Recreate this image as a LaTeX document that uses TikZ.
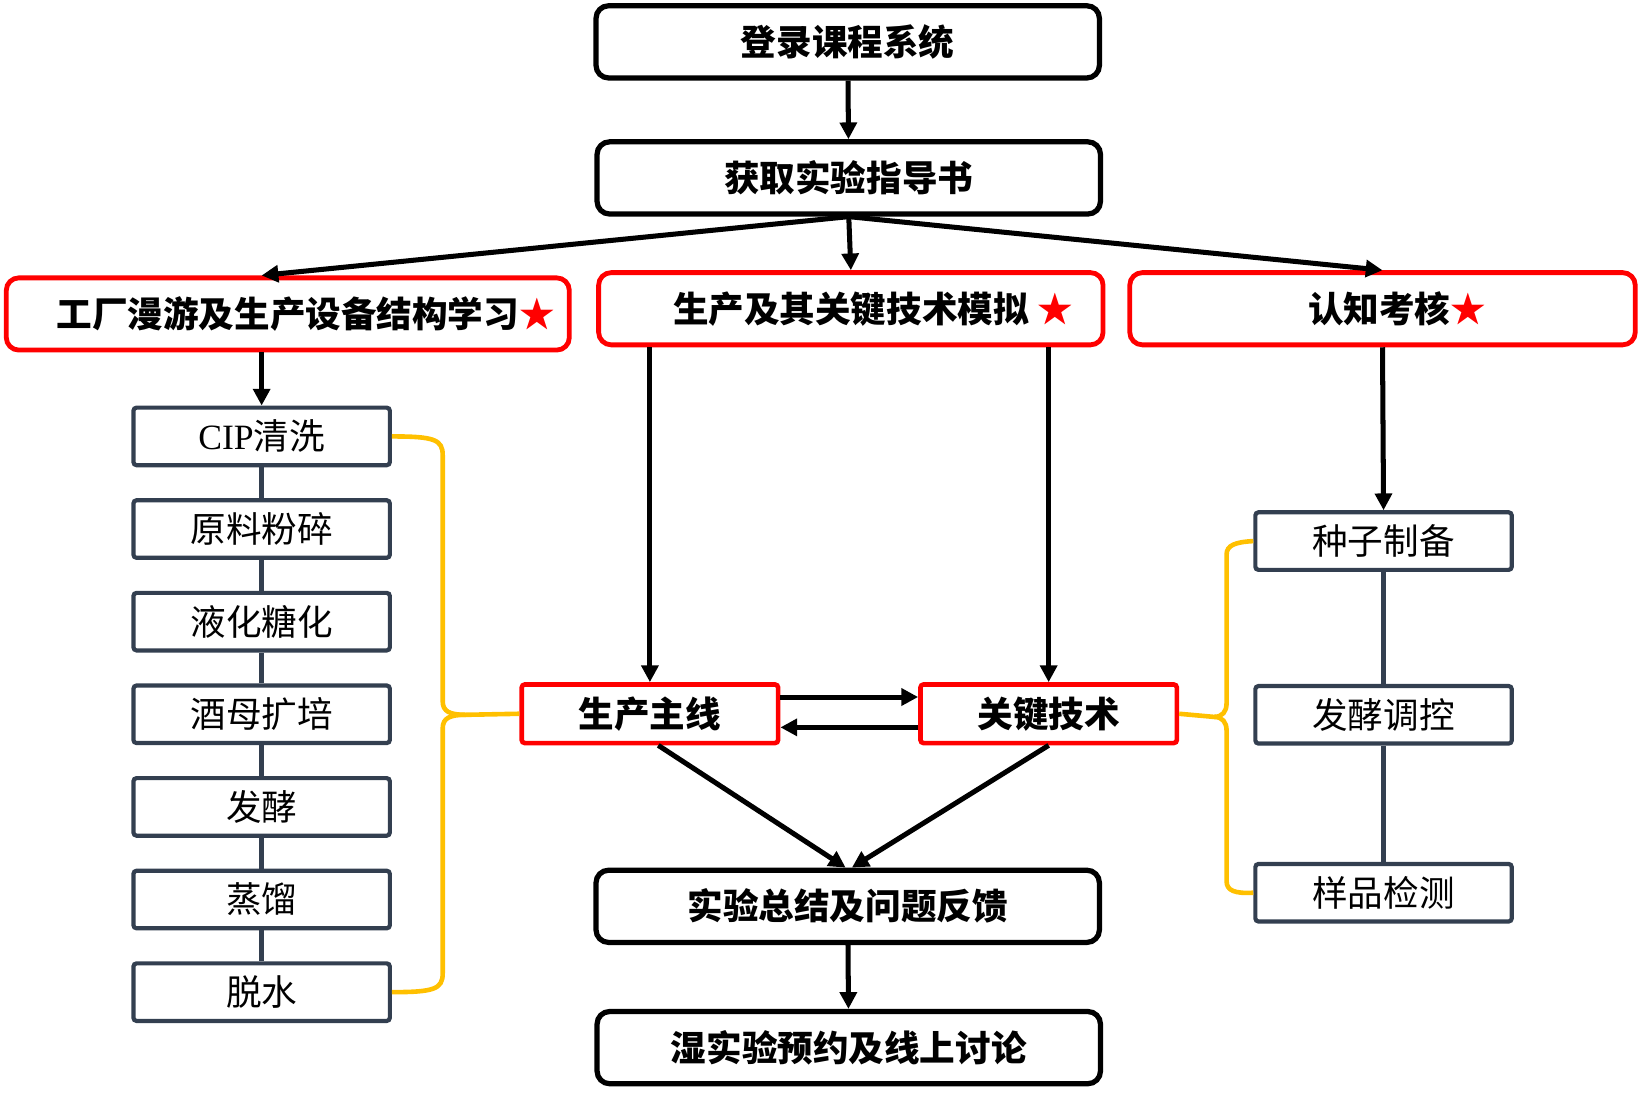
\documentclass[tikz,border=0pt]{standalone}
\usepackage{fontspec}
\setmainfont{Liberation Serif}
\newfontfamily\cjk{Noto Sans CJK SC}
\usepackage{tikz}
\usetikzlibrary{arrows.meta,positioning,calc}
\definecolor{slate}{HTML}{333F50}
\definecolor{braceyellow}{HTML}{FFC000}

\begin{document}
\begin{tikzpicture}[
    x=0.5pt, y=-0.5pt,
    node distance=14.75pt,
    main/.style={rectangle, rounded corners=6pt, draw=black, line width=2.5pt, minimum width=240.5pt, minimum height=34.5pt, font=\cjk\bfseries\fontsize{17}{20}\selectfont},
    part/.style={rectangle, rounded corners=6pt, draw=red, line width=2.3pt, minimum height=34.5pt, font=\cjk\bfseries\fontsize{17}{20}\selectfont},
    stage/.style={rectangle, rounded corners=1.5pt, draw=slate, line width=2pt, minimum width=122.5pt, minimum height=27.5pt, font=\cjk\fontsize{17}{20}\selectfont},
    core/.style={rectangle, rounded corners=1.5pt, draw=red, line width=2.2pt, minimum width=122.5pt, minimum height=28pt, font=\cjk\bfseries\fontsize{17}{20}\selectfont},
    arrow/.style={-{Triangle[length=8pt,width=8pt]}, line width=2.4pt},
    link/.style={draw=slate, line width=2.2pt},
    brace/.style={draw=braceyellow, line width=2.2pt}
]
\useasboundingbox (0,0) rectangle (1568,1045);

% Top of the flow
\node[main] (login) at (810,40) {登录课程系统};

\node[main] (guide) at (811,170) {获取实验指导书};

% Three parts
\node[part, minimum width=269pt] (tour) at (275,300) {\hspace*{17pt}工厂漫游及生产设备结构学习{\color{red}★}};

\node[part, minimum width=241pt] (sim) at (813,295) {\hspace*{21pt}生产及其关键技术模拟 {\color{red}★}};

\node[part, minimum width=241.5pt] (exam) at (1321,295) {\hspace*{14pt}认知考核{\color{red}★}};

% Production stages
\node[stage] (cip) at (250,417) {{\rmfamily CIP}清洗};

\node[stage, below=of cip] (grind) {原料粉碎};

\node[stage, below=of grind] (liquefy) {液化糖化};

\node[stage, below=of liquefy] (yeast) {酒母扩培};

\node[stage, below=of yeast] (ferment) {发酵};

\node[stage, below=of ferment] (distill) {蒸馏};

\node[stage, below=of distill] (dehyd) {脱水};

% Simulation core
\node[core] (mainline) at (621,682) {生产主线};

\node[core] (keytech) at (1002,682) {关键技术};

% Assessment items
\node[stage] (seedprep) at (1322,517) {种子制备};

\node[stage] (fermctl) at (1322,683) {发酵调控};

\node[stage] (sample) at (1322,853) {样品检测};

% Bottom of the flow
\node[main] (summary) at (810,866) {实验总结及问题反馈};

\node[main] (booking) at (811,1001) {湿实验预约及线上讨论};

% Arrows
\draw[arrow] (login) -- (guide);
\draw[arrow] (guide.south) -- (tour.north -| cip.north);
\draw[arrow] (guide.south) -- (sim.north);
\draw[arrow] (guide.south) -- (exam.north);
\draw[arrow] (tour.south -| cip.north) -- (cip.north);
\draw[arrow] (sim.south -| mainline.north) -- (mainline.north);
\draw[arrow] (sim.south -| keytech.north) -- (keytech.north);
\draw[arrow] ([yshift=8pt]mainline.east) -- ([yshift=8pt]keytech.west);
\draw[arrow] ([yshift=-6.5pt]keytech.west) -- ([yshift=-6.5pt]mainline.east);
\draw[arrow] ([xshift=4pt]mainline.south) -- ([xshift=-1pt]summary.north);
\draw[arrow] (keytech.south) -- ([xshift=2pt]summary.north);
\draw[arrow] (summary) -- (booking);
\draw[arrow] (exam.south) -- (seedprep.north);

% Stage links
\draw[link] (cip) -- (grind);
\draw[link] (grind) -- (liquefy);
\draw[link] (liquefy) -- (yeast);
\draw[link] (yeast) -- (ferment);
\draw[link] (ferment) -- (distill);
\draw[link] (distill) -- (dehyd);
\draw[link] (seedprep) -- (fermctl);
\draw[link] (fermctl) -- (sample);

% Braces
\draw[brace] (cip.east) .. controls (415,417) and (423,420) .. (423,435) -- (423,670) .. controls (423,680) and (430,683) .. (445,683) -- (mainline.west);
\draw[brace] (dehyd.east) .. controls (415,948) and (423,945) .. (423,930) -- (423,696) .. controls (423,686) and (430,683) .. (445,683);
\coordinate (bracetip) at (1160,685);
\draw[brace] (keytech.east) -- (bracetip) .. controls (1168,685) and (1172,680) .. (1172,672) -- (1172,530) .. controls (1172,521) and (1180,518) .. (seedprep.west);
\draw[brace] (bracetip) .. controls (1168,685) and (1172,690) .. (1172,698) -- (1172,842) .. controls (1172,851) and (1180,854) .. (sample.west);

\end{tikzpicture}
\end{document}
